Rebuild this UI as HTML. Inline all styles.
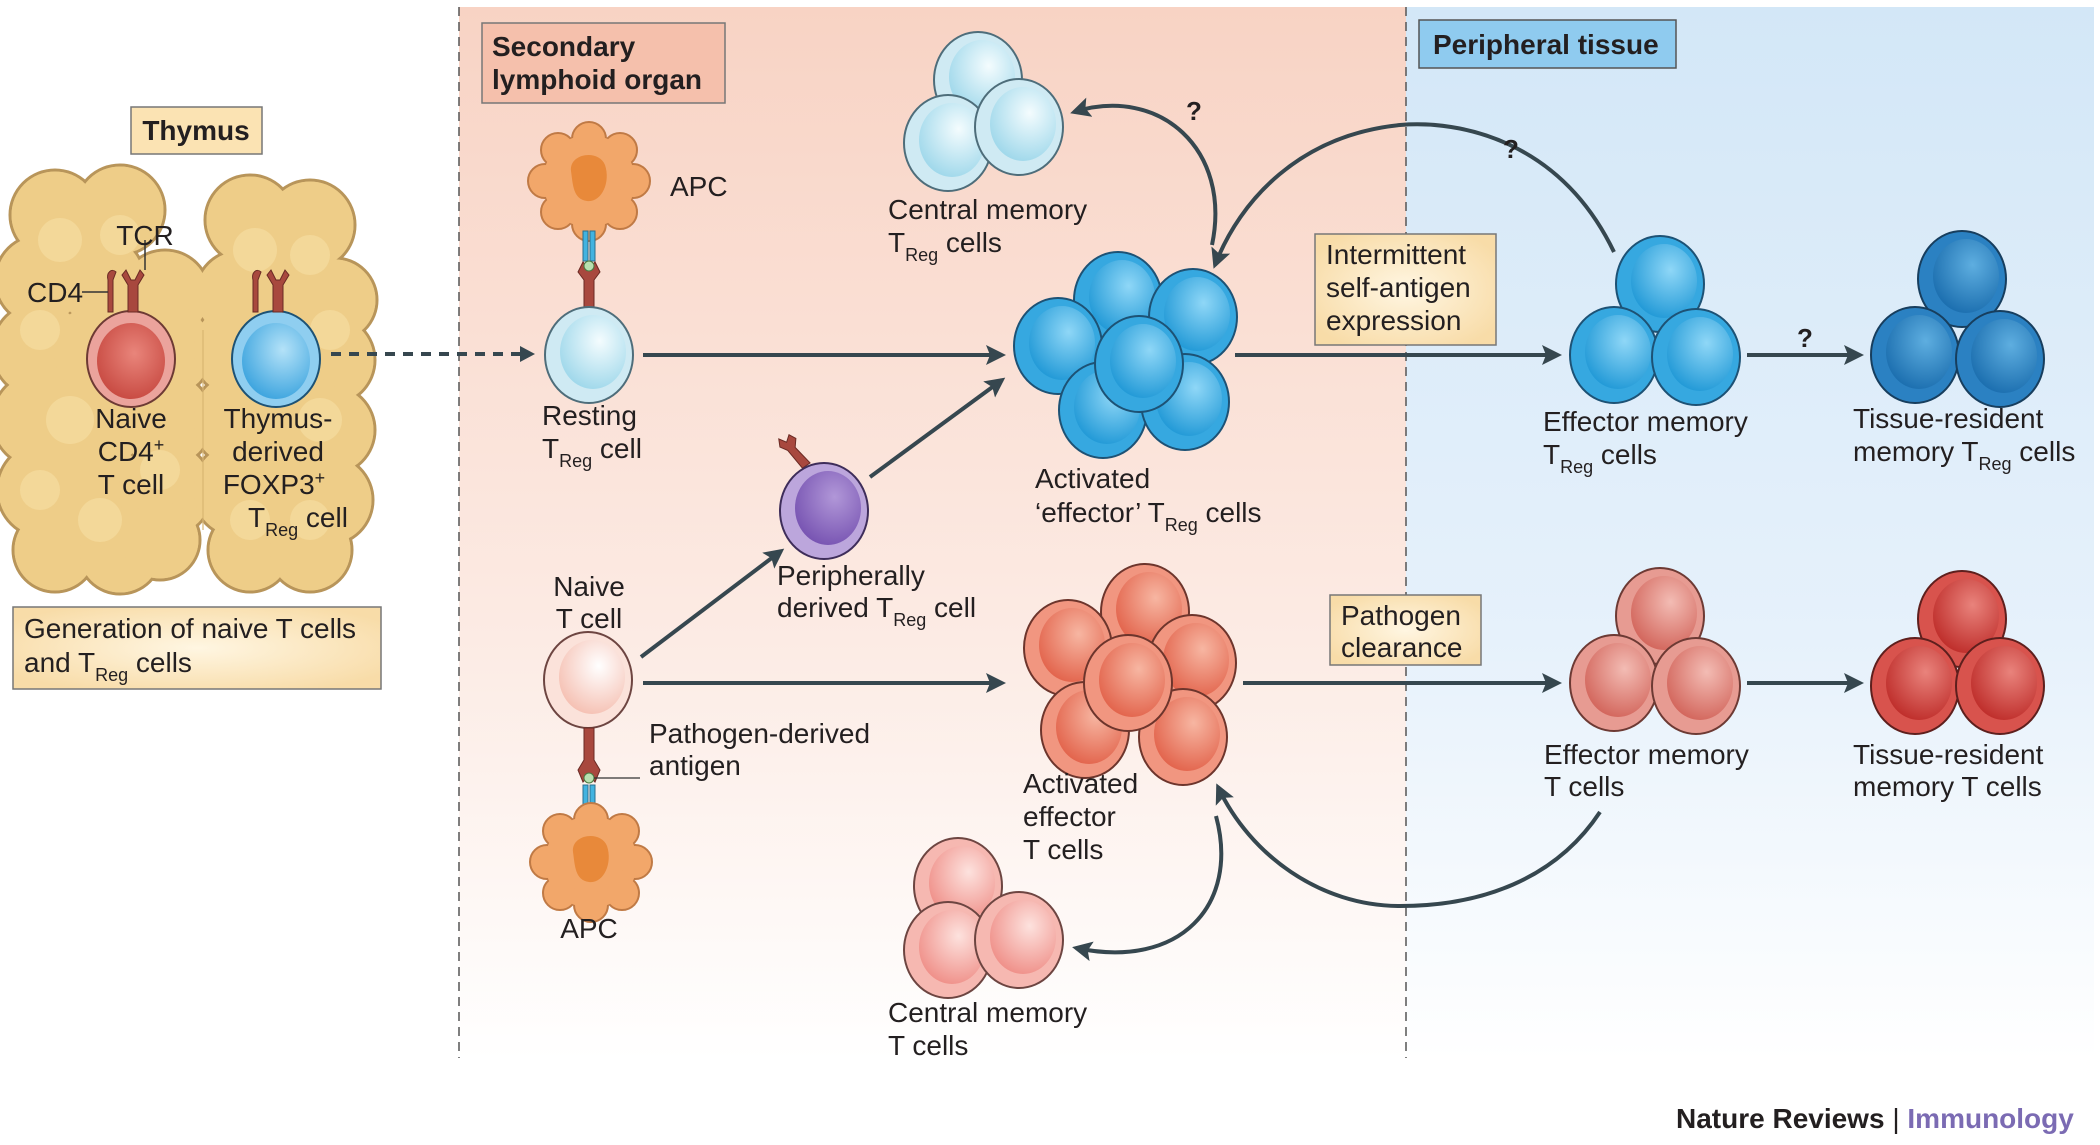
<!DOCTYPE html>
<html><head><meta charset="utf-8"><style>
html,body{margin:0;padding:0;background:#fff;}
svg{display:block;}
text{font-family:"Liberation Sans Narrow","Liberation Sans",sans-serif;font-size:28px;fill:#231f20;}
.b{font-weight:bold;}
.s{font-size:18px;}
</style></head><body>
<svg width="2100" height="1145" viewBox="0 0 2100 1145" xmlns="http://www.w3.org/2000/svg">
<defs>
<linearGradient id="pinkbg" x1="0" y1="0" x2="0" y2="1"><stop offset="0" stop-color="#f8d3c4"/><stop offset="0.6" stop-color="#fcebe4"/><stop offset="1" stop-color="#ffffff"/></linearGradient>
<linearGradient id="bluebg" x1="0" y1="0" x2="0" y2="1"><stop offset="0" stop-color="#d3e7f7"/><stop offset="0.6" stop-color="#e6f1fb"/><stop offset="1" stop-color="#ffffff"/></linearGradient>
<radialGradient id="gB" cx="0.6" cy="0.35" r="0.7"><stop offset="0" stop-color="#8fd7f7"/><stop offset="1" stop-color="#1f98d6"/></radialGradient>
<radialGradient id="gDB" cx="0.6" cy="0.35" r="0.7"><stop offset="0" stop-color="#5eaee0"/><stop offset="1" stop-color="#1a6dae"/></radialGradient>
<radialGradient id="gLB" cx="0.6" cy="0.35" r="0.7"><stop offset="0" stop-color="#f4fcfe"/><stop offset="1" stop-color="#9dd7ea"/></radialGradient>
<radialGradient id="gTB" cx="0.6" cy="0.35" r="0.7"><stop offset="0" stop-color="#b4e2f8"/><stop offset="1" stop-color="#3aa3de"/></radialGradient>
<radialGradient id="gR" cx="0.6" cy="0.35" r="0.7"><stop offset="0" stop-color="#f7b6a2"/><stop offset="1" stop-color="#e2624a"/></radialGradient>
<radialGradient id="gLR" cx="0.6" cy="0.35" r="0.7"><stop offset="0" stop-color="#fde2de"/><stop offset="1" stop-color="#ef8e87"/></radialGradient>
<radialGradient id="gMR" cx="0.6" cy="0.35" r="0.7"><stop offset="0" stop-color="#f3bcb4"/><stop offset="1" stop-color="#d2645a"/></radialGradient>
<radialGradient id="gDR" cx="0.6" cy="0.35" r="0.7"><stop offset="0" stop-color="#e9837c"/><stop offset="1" stop-color="#be2c29"/></radialGradient>
<radialGradient id="gNR" cx="0.55" cy="0.4" r="0.7"><stop offset="0" stop-color="#e9857b"/><stop offset="1" stop-color="#c4433b"/></radialGradient>
<radialGradient id="gNT" cx="0.6" cy="0.35" r="0.7"><stop offset="0" stop-color="#ffffff"/><stop offset="1" stop-color="#f5bfb1"/></radialGradient>
<radialGradient id="gP" cx="0.6" cy="0.35" r="0.7"><stop offset="0" stop-color="#b197d8"/><stop offset="1" stop-color="#7652b1"/></radialGradient>
<radialGradient id="gY" cx="0.5" cy="0.5" r="0.6"><stop offset="0" stop-color="#fff6e2"/><stop offset="1" stop-color="#f8dca8"/></radialGradient>

<g id="cB"><ellipse rx="44" ry="48" fill="#36a8e0" stroke="#1d5275" stroke-width="2"/><ellipse cx="4" cy="-3" rx="33" ry="37" fill="url(#gB)"/></g>
<g id="cDB"><ellipse rx="44" ry="48" fill="#2b81c2" stroke="#173e5e" stroke-width="2"/><ellipse cx="4" cy="-3" rx="33" ry="37" fill="url(#gDB)"/></g>
<g id="cLB"><ellipse rx="44" ry="48" fill="#cfeaf3" stroke="#4e6d7a" stroke-width="2"/><ellipse cx="4" cy="-3" rx="33" ry="37" fill="url(#gLB)"/></g>
<g id="cR"><ellipse rx="44" ry="48" fill="#f19680" stroke="#6d352c" stroke-width="2"/><ellipse cx="4" cy="-3" rx="33" ry="37" fill="url(#gR)"/></g>
<g id="cLR"><ellipse rx="44" ry="48" fill="#f6b8b1" stroke="#6d4541" stroke-width="2"/><ellipse cx="4" cy="-3" rx="33" ry="37" fill="url(#gLR)"/></g>
<g id="cMR"><ellipse rx="44" ry="48" fill="#e79b92" stroke="#6d3a34" stroke-width="2"/><ellipse cx="4" cy="-3" rx="33" ry="37" fill="url(#gMR)"/></g>
<g id="cDR"><ellipse rx="44" ry="48" fill="#d8534d" stroke="#5e1f1d" stroke-width="2"/><ellipse cx="4" cy="-3" rx="33" ry="37" fill="url(#gDR)"/></g>

<marker id="ah" viewBox="0 0 10 10" refX="8" refY="5" markerWidth="5" markerHeight="5" orient="auto" markerUnits="strokeWidth"><path d="M0,0 L10,5 L0,10 L2,5 z" fill="#36474f"/></marker>

<g id="apc">
 <g fill="#f2a76a" stroke="#c07a45" stroke-width="2">
  <circle r="46"/><circle cx="0" cy="-42" r="17"/><circle cx="31" cy="-31" r="17"/><circle cx="44" cy="0" r="17"/><circle cx="31" cy="31" r="17"/><circle cx="0" cy="43" r="17"/><circle cx="-31" cy="31" r="17"/><circle cx="-44" cy="0" r="17"/><circle cx="-31" cy="-31" r="17"/>
 </g>
 <g fill="#f2a76a">
  <circle r="46"/><circle cx="0" cy="-42" r="15"/><circle cx="31" cy="-31" r="15"/><circle cx="44" cy="0" r="15"/><circle cx="31" cy="31" r="15"/><circle cx="0" cy="43" r="15"/><circle cx="-31" cy="31" r="15"/><circle cx="-44" cy="0" r="15"/><circle cx="-31" cy="-31" r="15"/>
 </g>
 <path d="M-18,-10 C-20,-28 10,-32 16,-16 C22,2 12,22 -2,20 C-16,18 -16,4 -18,-10 z" fill="#e8893a"/>
</g>
</defs>

<!-- backgrounds -->
<rect x="459" y="7" width="947" height="1053" fill="url(#pinkbg)"/>
<rect x="1406" y="7" width="688" height="1053" fill="url(#bluebg)"/>
<line x1="459" y1="7" x2="459" y2="1058" stroke="#555" stroke-width="1.5" stroke-dasharray="9,6"/>
<line x1="1406" y1="7" x2="1406" y2="1058" stroke="#555" stroke-width="1.5" stroke-dasharray="9,6"/>

<!-- thymus -->
<g fill="#eecd88" stroke="#b8955a" stroke-width="3">
 <circle cx="55" cy="215" r="45"/><circle cx="120" cy="210" r="45"/>
 <circle cx="40" cy="280" r="45"/><circle cx="100" cy="280" r="45"/><circle cx="165" cy="295" r="45"/>
 <circle cx="40" cy="350" r="48"/><circle cx="100" cy="350" r="48"/><circle cx="165" cy="350" r="48"/>
 <circle cx="40" cy="420" r="48"/><circle cx="100" cy="420" r="48"/><circle cx="165" cy="420" r="48"/>
 <circle cx="45" cy="490" r="48"/><circle cx="100" cy="490" r="48"/><circle cx="165" cy="490" r="48"/>
 <circle cx="55" cy="550" r="42"/><circle cx="120" cy="552" r="42"/><circle cx="160" cy="540" r="40"/>
 <circle cx="250" cy="220" r="45"/><circle cx="310" cy="225" r="45"/>
 <circle cx="240" cy="295" r="45"/><circle cx="300" cy="285" r="45"/><circle cx="335" cy="300" r="42"/>
 <circle cx="240" cy="350" r="48"/><circle cx="300" cy="350" r="48"/><circle cx="330" cy="360" r="45"/>
 <circle cx="240" cy="420" r="48"/><circle cx="300" cy="420" r="48"/><circle cx="330" cy="430" r="45"/>
 <circle cx="240" cy="490" r="48"/><circle cx="300" cy="490" r="48"/><circle cx="328" cy="500" r="45"/>
 <circle cx="250" cy="550" r="42"/><circle cx="310" cy="550" r="42"/>
</g>
<g fill="#eecd88">
 <circle cx="55" cy="215" r="43.5"/><circle cx="120" cy="210" r="43.5"/>
 <circle cx="40" cy="280" r="43.5"/><circle cx="100" cy="280" r="43.5"/><circle cx="165" cy="295" r="43.5"/>
 <circle cx="40" cy="350" r="46.5"/><circle cx="100" cy="350" r="46.5"/><circle cx="165" cy="350" r="46.5"/>
 <circle cx="40" cy="420" r="46.5"/><circle cx="100" cy="420" r="46.5"/><circle cx="165" cy="420" r="46.5"/>
 <circle cx="45" cy="490" r="46.5"/><circle cx="100" cy="490" r="46.5"/><circle cx="165" cy="490" r="46.5"/>
 <circle cx="55" cy="550" r="40.5"/><circle cx="120" cy="552" r="40.5"/><circle cx="160" cy="540" r="38.5"/>
 <circle cx="250" cy="220" r="43.5"/><circle cx="310" cy="225" r="43.5"/>
 <circle cx="240" cy="295" r="43.5"/><circle cx="300" cy="285" r="43.5"/><circle cx="335" cy="300" r="40.5"/>
 <circle cx="240" cy="350" r="46.5"/><circle cx="300" cy="350" r="46.5"/><circle cx="330" cy="360" r="43.5"/>
 <circle cx="240" cy="420" r="46.5"/><circle cx="300" cy="420" r="46.5"/><circle cx="330" cy="430" r="43.5"/>
 <circle cx="240" cy="490" r="46.5"/><circle cx="300" cy="490" r="46.5"/><circle cx="328" cy="500" r="43.5"/>
 <circle cx="250" cy="550" r="40.5"/><circle cx="310" cy="550" r="40.5"/>
</g>
<line x1="203" y1="330" x2="203" y2="530" stroke="#d9b672" stroke-width="2" opacity="0.6"/>
<g fill="#f8e2a8" opacity="0.55">
 <circle cx="60" cy="240" r="22"/><circle cx="120" cy="235" r="20"/><circle cx="40" cy="330" r="20"/><circle cx="70" cy="420" r="24"/><circle cx="40" cy="490" r="20"/><circle cx="100" cy="520" r="22"/><circle cx="160" cy="470" r="20"/>
 <circle cx="255" cy="250" r="22"/><circle cx="310" cy="255" r="20"/><circle cx="330" cy="330" r="20"/><circle cx="320" cy="420" r="22"/><circle cx="250" cy="520" r="20"/><circle cx="310" cy="520" r="20"/>
</g>
<rect x="131" y="107" width="131" height="47" fill="#fbe3b3" stroke="#777" stroke-width="1.5"/>
<text x="196" y="140" text-anchor="middle" class="b">Thymus</text>

<!-- thymus cells -->
<g transform="translate(131,359)"><ellipse rx="44" ry="48" fill="#eba39c" stroke="#6d3a34" stroke-width="2"/><ellipse cx="0" cy="2" rx="34" ry="38" fill="url(#gNR)"/></g>
<g transform="translate(276,359)"><ellipse rx="44" ry="48" fill="#8fcef0" stroke="#1d5275" stroke-width="2"/><ellipse cx="0" cy="2" rx="34" ry="38" fill="url(#gTB)"/></g>
<g fill="#a8483e" stroke="#6a2a24" stroke-width="1">
 <path d="M128,312 L128,285 L122,275 L126,270 L131,280 L135,280 L140,270 L144,275 L138,285 L138,312 z"/>
 <path d="M108,312 L108,280 C106,272 112,268 116,272 L113,280 L113,312 z"/>
 <path d="M273,312 L273,285 L267,275 L271,270 L276,280 L280,280 L285,270 L289,275 L283,285 L283,312 z"/>
 <path d="M253,312 L253,280 C251,272 257,268 261,272 L258,280 L258,312 z"/>
</g>
<line x1="145" y1="270" x2="145" y2="240" stroke="#333" stroke-width="1.5"/>
<line x1="82" y1="292" x2="108" y2="292" stroke="#333" stroke-width="1.5"/>
<text x="145" y="245" text-anchor="middle">TCR</text>
<text x="27" y="302">CD4</text>
<text x="131" y="428" text-anchor="middle">Naive</text>
<text x="131" y="461" text-anchor="middle">CD4<tspan class="s" dy="-10">+</tspan></text>
<text x="131" y="494" text-anchor="middle">T cell</text>
<text x="278" y="428" text-anchor="middle">Thymus-</text>
<text x="278" y="461" text-anchor="middle">derived</text>
<text x="274" y="494" text-anchor="middle">FOXP3<tspan class="s" dy="-10">+</tspan></text>
<text x="248" y="527">T<tspan class="s" dy="9">Reg</tspan><tspan dy="-9"> cell</tspan></text>

<rect x="13" y="607" width="368" height="82" fill="url(#gY)" stroke="#777" stroke-width="1.5"/>
<text x="24" y="638">Generation of naive T cells</text>
<text x="24" y="672">and T<tspan class="s" dy="9">Reg</tspan><tspan dy="-9"> cells</tspan></text>

<line x1="331" y1="354" x2="522" y2="354" stroke="#36474f" stroke-width="4" stroke-dasharray="10,8"/>
<path d="M520,346 L535,354 L520,362 z" fill="#36474f"/>

<rect x="482" y="23" width="243" height="80" fill="#f5c0ac" stroke="#777" stroke-width="1.5"/>
<text x="492" y="56" class="b">Secondary</text>
<text x="492" y="89" class="b">lymphoid organ</text>
<rect x="1419" y="20" width="257" height="48" fill="#8fcbef" stroke="#555" stroke-width="1.5"/>
<text x="1433" y="54" class="b">Peripheral tissue</text>
<rect x="1315" y="234" width="181" height="111" fill="url(#gY)" stroke="#777" stroke-width="1.5"/>
<text x="1326" y="264">Intermittent</text>
<text x="1326" y="297">self-antigen</text>
<text x="1326" y="330">expression</text>
<rect x="1330" y="595" width="151" height="70" fill="url(#gY)" stroke="#777" stroke-width="1.5"/>
<text x="1341" y="625">Pathogen</text>
<text x="1341" y="657">clearance</text>

<use href="#apc" x="589" y="181"/>
<rect x="583" y="231" width="5" height="30" fill="#42b3e0" stroke="#2a6f8e" stroke-width="1"/>
<rect x="590" y="231" width="5" height="30" fill="#42b3e0" stroke="#2a6f8e" stroke-width="1"/>
<path d="M584,310 L584,280 L578,272 L583,262 L589,270 L595,262 L600,272 L594,280 L594,310 z" fill="#a8483e" stroke="#6a2a24"/>
<circle cx="589" cy="266" r="5" fill="#b8e0b0" stroke="#4a7a40"/>
<text x="670" y="196">APC</text>
<use href="#cLB" x="589" y="355"/>
<text x="542" y="425">Resting</text>
<text x="542" y="458">T<tspan class="s" dy="9">Reg</tspan><tspan dy="-9"> cell</tspan></text>

<use href="#cLB" x="978" y="80"/>
<use href="#cLB" x="948" y="143"/>
<use href="#cLB" x="1019" y="127"/>
<text x="888" y="219">Central memory</text>
<text x="888" y="252">T<tspan class="s" dy="9">Reg</tspan><tspan dy="-9"> cells</tspan></text>

<use href="#cB" x="1118" y="300"/>
<use href="#cB" x="1193" y="317"/>
<use href="#cB" x="1058" y="346"/>
<use href="#cB" x="1103" y="410"/>
<use href="#cB" x="1185" y="402"/>
<use href="#cB" x="1139" y="364"/>
<text x="1035" y="488">Activated</text>
<text x="1035" y="522">‘effector’ T<tspan class="s" dy="9">Reg</tspan><tspan dy="-9"> cells</tspan></text>

<use href="#cB" x="1660" y="284"/>
<use href="#cB" x="1614" y="355"/>
<use href="#cB" x="1696" y="357"/>
<text x="1543" y="431">Effector memory</text>
<text x="1543" y="464">T<tspan class="s" dy="9">Reg</tspan><tspan dy="-9"> cells</tspan></text>

<use href="#cDB" x="1962" y="279"/>
<use href="#cDB" x="1915" y="355"/>
<use href="#cDB" x="2000" y="359"/>
<text x="1853" y="428">Tissue-resident</text>
<text x="1853" y="461">memory T<tspan class="s" dy="9">Reg</tspan><tspan dy="-9"> cells</tspan></text>

<path d="M797,470 L790,448 L784,442 L786,434 L792,440 L797,434 L802,440 L798,448 L806,468 z" fill="#a8483e" stroke="#6a2a24" transform="rotate(-22 795 455)"/>
<g transform="translate(824,511)"><ellipse rx="44" ry="48" fill="#bca6dc" stroke="#3e2d5a" stroke-width="2"/><ellipse cx="4" cy="-3" rx="33" ry="37" fill="url(#gP)"/></g>
<text x="777" y="585">Peripherally</text>
<text x="777" y="617">derived T<tspan class="s" dy="9">Reg</tspan><tspan dy="-9"> cell</tspan></text>

<text x="589" y="596" text-anchor="middle">Naive</text>
<text x="589" y="628" text-anchor="middle">T cell</text>
<g transform="translate(588,680)"><ellipse rx="44" ry="48" fill="#fbe2da" stroke="#6d4541" stroke-width="2"/><ellipse cx="4" cy="-3" rx="33" ry="37" fill="url(#gNT)"/></g>
<path d="M584,728 L584,760 L578,770 L583,782 L589,775 L595,782 L600,770 L594,760 L594,728 z" fill="#a8483e" stroke="#6a2a24"/>
<circle cx="589" cy="778" r="5" fill="#b8e0b0" stroke="#4a7a40"/>
<line x1="594" y1="778" x2="640" y2="778" stroke="#333" stroke-width="1.2"/>
<rect x="583" y="785" width="5" height="30" fill="#42b3e0" stroke="#2a6f8e" stroke-width="1"/>
<rect x="590" y="785" width="5" height="30" fill="#42b3e0" stroke="#2a6f8e" stroke-width="1"/>
<use href="#apc" x="591" y="862"/>
<text x="589" y="938" text-anchor="middle">APC</text>
<text x="649" y="743">Pathogen-derived</text>
<text x="649" y="775">antigen</text>

<use href="#cR" x="1145" y="612"/>
<use href="#cR" x="1192" y="663"/>
<use href="#cR" x="1068" y="648"/>
<use href="#cR" x="1085" y="730"/>
<use href="#cR" x="1183" y="737"/>
<use href="#cR" x="1128" y="683"/>
<text x="1023" y="793">Activated</text>
<text x="1023" y="826">effector</text>
<text x="1023" y="859">T cells</text>

<use href="#cLR" x="958" y="886"/>
<use href="#cLR" x="948" y="950"/>
<use href="#cLR" x="1019" y="940"/>
<text x="888" y="1022">Central memory</text>
<text x="888" y="1055">T cells</text>

<use href="#cMR" x="1660" y="616"/>
<use href="#cMR" x="1614" y="683"/>
<use href="#cMR" x="1696" y="686"/>
<text x="1544" y="764">Effector memory</text>
<text x="1544" y="796">T cells</text>

<use href="#cDR" x="1962" y="619"/>
<use href="#cDR" x="1915" y="686"/>
<use href="#cDR" x="2000" y="686"/>
<text x="1853" y="764">Tissue-resident</text>
<text x="1853" y="796">memory T cells</text>

<g stroke="#36474f" stroke-width="4" fill="none" marker-end="url(#ah)">
 <line x1="643" y1="355" x2="1002" y2="355"/>
 <line x1="870" y1="477" x2="1002" y2="380"/>
 <line x1="641" y1="657" x2="781" y2="551"/>
 <line x1="643" y1="683" x2="1002" y2="683"/>
 <line x1="1235" y1="355" x2="1558" y2="355"/>
 <line x1="1747" y1="355" x2="1860" y2="355"/>
 <line x1="1243" y1="683" x2="1558" y2="683"/>
 <line x1="1747" y1="683" x2="1860" y2="683"/>
 <path d="M1212,245 C1232,150 1160,85 1074,112"/>
 <path d="M1614,252 C1560,140 1460,120 1400,125 C1300,135 1240,200 1215,265"/>
 <path d="M1216,816 C1240,905 1180,970 1076,948"/>
 <path d="M1600,812 C1555,880 1480,906 1400,906 C1320,906 1250,855 1218,787"/>
</g>
<text x="1186" y="120" class="b" style="font-size:26px">?</text>
<text x="1503" y="158" class="b" style="font-size:26px">?</text>
<text x="1797" y="347" class="b" style="font-size:26px">?</text>

<text x="1676" y="1128" class="b" style="font-size:28px">Nature Reviews <tspan style="font-weight:normal">|</tspan> <tspan style="fill:#7b6bb3">Immunology</tspan></text>
</svg>
</body></html>
